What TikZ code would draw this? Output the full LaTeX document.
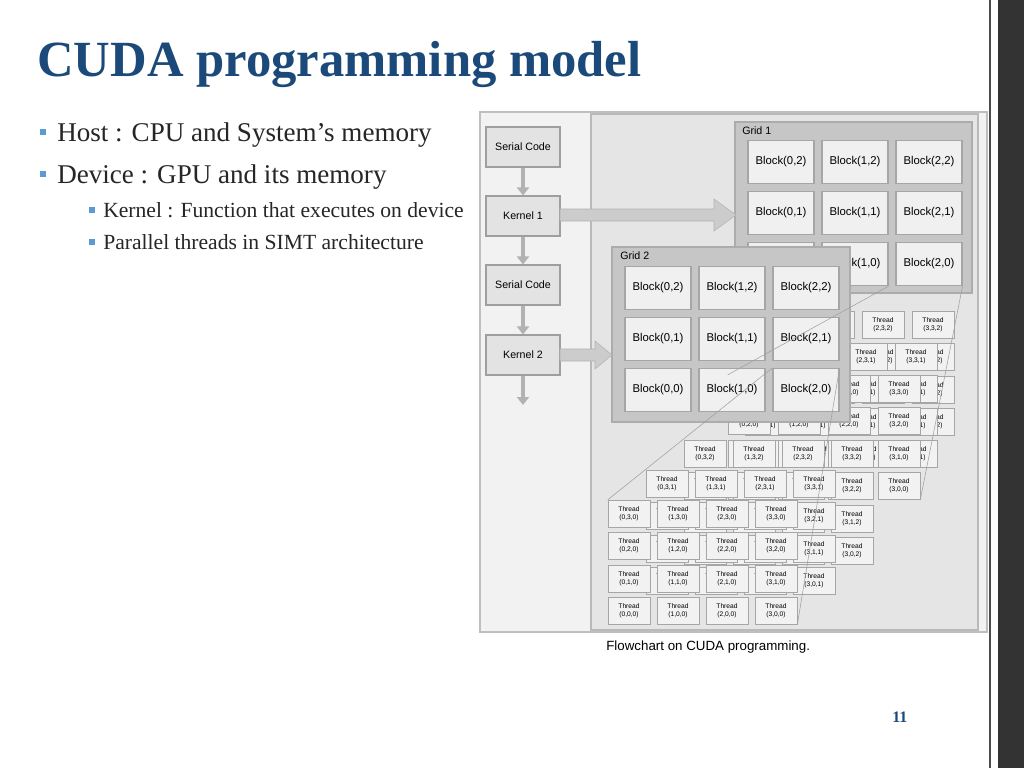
\documentclass[tikz,border=0pt]{standalone}
\usepackage{fontspec}
\setmainfont{Liberation Serif}
\newfontfamily\dsans{Liberation Sans}
\usetikzlibrary{arrows.meta}
\definecolor{ttl}{HTML}{1B4A7A}
\definecolor{bul}{HTML}{5B9BD5}
\begin{document}
\begin{tikzpicture}[x=0.75pt,y=-0.75pt,
  every node/.style={inner sep=0pt},
  fbox/.style={draw=gray!75,fill=gray!22,line width=0.8pt,minimum width=55.5pt,minimum height=30pt,font=\dsans\fontsize{8}{9}\selectfont},
  blk/.style={draw=gray!70,fill=gray!12,line width=0.8pt,minimum width=49.5pt,minimum height=32.5pt,font=\dsans\fontsize{8.5}{10}\selectfont},
  thr/.style={draw=gray!70,fill=gray!10,line width=0.5pt,minimum width=31.5pt,minimum height=20pt,align=center,font=\dsans\fontsize{5}{5.8}\selectfont},
  grid/.style={draw=gray!65,fill=gray!45,line width=1pt},
  darr/.style={draw=gray!60,line width=3pt,-{Triangle[width=9pt,length=6pt]}},
  proj/.style={draw=gray!75,line width=0.4pt},
  bsq/.style={fill=bul,minimum size=#1,inner sep=0pt}]
\useasboundingbox (0,0) rectangle (1024,768);
\fill[white] (0,0) rectangle (1024,768);
% right decorative strip
\fill[black!80] (998,0) rectangle (1024,768);
\draw[black!70,line width=1.5pt] (990,0) -- (990,768);
% title and bullets
\node[anchor=base west,text=ttl,font=\bfseries\fontsize{38}{40}\selectfont] (title) at (37,76) {CUDA programming model};
\node[bsq=5pt] (b1) at (43,132) {};
\node[anchor=base west,font=\fontsize{20.3}{22}\selectfont,text=black!85] (t1) at (57,141) {Host : CPU and System’s memory};
\node[bsq=5pt] (b2) at (43,174) {};
\node[anchor=base west,font=\fontsize{20.3}{22}\selectfont,text=black!85] (t2) at (57,183) {Device : GPU and its memory};
\node[bsq=4pt] (b3) at (92,210) {};
\node[anchor=base west,font=\fontsize{16.2}{18}\selectfont,text=black!85] (t3) at (103,217) {Kernel : Function that executes on device};
\node[bsq=4pt] (b4) at (92,242) {};
\node[anchor=base west,font=\fontsize{16.2}{18}\selectfont,text=black!85] (t4) at (103,249) {Parallel threads in SIMT architecture};
% figure frame
\draw[gray!50,fill=gray!10,line width=1pt] (480,112) rectangle (987,632);
\draw[gray!55,fill=gray!20,line width=0.8pt] (591,114) rectangle (978,630);
% left flow
\node[fbox] (s1) at (523,147) {Serial Code};
\node[fbox] (k1) at (523,216) {Kernel 1};
\node[fbox] (s2) at (523,285) {Serial Code};
\node[fbox] (k2) at (523,355) {Kernel 2};
\coordinate (endf) at (523,405);
\draw[darr] (s1) -- (k1);
\draw[darr] (k1) -- (s2);
\draw[darr] (s2) -- (k2);
\draw[darr] (k2) -- (endf);
% right thread stack (grid 1)
\foreach \k in {2,1,0}{
 \foreach \i in {0,...,3}{
  \foreach \j in {0,...,3}{
   \node[thr] (rt-\i-\j-\k) at ({749+50*\i+17*\k},{486-32.5*\j-32*\k}) {Thread\\(\i,\j,\k)};
 }}}
% left thread stack (grid 2)
\foreach \k in {2,1,0}{
 \foreach \i in {0,...,3}{
  \foreach \j in {0,...,3}{
   \node[thr] (lt-\i-\j-\k) at ({629+49*\i+38*\k},{611-32.5*\j-30*\k}) {Thread\\(\i,\j,\k)};
 }}}
% grid 1
\draw[grid] (735,122) rectangle (972,293);
\node[anchor=north west,font=\dsans\fontsize{8}{9}\selectfont] (g1) at (742,126) {Grid 1};
\foreach \i in {0,1,2}{
 \foreach \j in {0,1,2}{
  \node[blk] (ga-\i-\j) at ({781+74*\i},{264-51*\j}) {Block(\i,\j)};
}}
% grid 2
\draw[grid] (612,247) rectangle (850,422);
\node[anchor=north west,font=\dsans\fontsize{8}{9}\selectfont] (g2) at (620,251) {Grid 2};
\foreach \i in {0,1,2}{
 \foreach \j in {0,1,2}{
  \node[blk] (gb-\i-\j) at ({658+74*\i},{390-51*\j}) {Block(\i,\j)};
}}
% block arrows
\draw[gray!60,fill=gray!40] (560,209) -- (714,209) -- (714,199) -- (736,215) -- (714,231) -- (714,221) -- (560,221) -- cycle;
\draw[gray!60,fill=gray!40] (560,349) -- (595,349) -- (595,341) -- (612,355) -- (595,369) -- (595,361) -- (560,361) -- cycle;
% projection lines
\draw[proj] (gb-2-0.north west) -- (lt-0-3-0.north west);
\draw[proj] (gb-2-0.north east) -- (lt-3-0-0.south east);
\draw[proj] (ga-1-0.south east) -- (rt-0-3-0.north west);
\draw[proj] (ga-2-0.south east) -- (rt-3-0-0.south east);
% caption and page number
\node[anchor=base west,font=\dsans\fontsize{10}{11}\selectfont] (cap) at (606,650) {Flowchart on CUDA programming.};
\node[anchor=base west,text=ttl,font=\bfseries\fontsize{12}{14}\selectfont] (pg) at (892,722) {11};
\end{tikzpicture}
\end{document}
